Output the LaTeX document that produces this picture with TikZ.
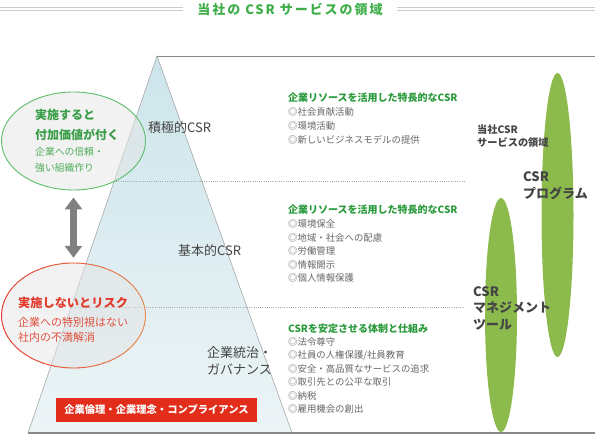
\documentclass[tikz,border=0pt]{standalone}
\usepackage{fontspec}
\setmainfont{Noto Sans CJK JP}
\usetikzlibrary{shapes.geometric,arrows.meta,calc}
\definecolor{titleGreen}{HTML}{3FAE49}
\definecolor{lineGray}{HTML}{CCCCCC}
\definecolor{pyrTop}{HTML}{CDE5EB}
\definecolor{pyrBot}{HTML}{ECF4F6}
\definecolor{edgeGray}{HTML}{A8A8A8}
\definecolor{ellG}{HTML}{5CBD6B}
\definecolor{txtG}{HTML}{3A9E48}
\definecolor{txtGl}{HTML}{4FAE5A}
\definecolor{redTxt}{HTML}{E23A2B}
\definecolor{redTxtl}{HTML}{E0503E}
\definecolor{ellRed}{HTML}{E3352A}
\definecolor{ellOrange}{HTML}{E8884C}
\definecolor{boxRed}{HTML}{E22D1A}
\definecolor{headGreen}{HTML}{2A9A3C}
\definecolor{itemGray}{HTML}{666666}
\definecolor{layGray}{HTML}{444444}
\definecolor{oliveG}{HTML}{8CBA4C}
\definecolor{arrowGray}{HTML}{808080}
\definecolor{baseGray}{HTML}{888888}
\tikzset{
  lbl/.style={anchor=west,inner sep=0pt,text height={0.88*#1},text depth={0.12*#1}},
  item/.style={lbl=9.4,font=\fontsize{9.4}{11}\selectfont,text=itemGray},
  head/.style={lbl=10,font=\fontsize{10}{12}\selectfont\bfseries,text=headGreen},
  layer/.style={lbl=13,font=\fontsize{13}{15}\selectfont,text=layGray},
  side/.style={lbl=13,font=\fontsize{13}{15}\selectfont\bfseries,text=layGray},
  dotline/.style={draw=edgeGray,line width=0.6pt,dash pattern=on 1pt off 1.2pt},
  titleline/.style={draw=lineGray,line width=0.8pt},
  bigell/.style={ellipse,fill=oliveG,inner sep=0pt,minimum width=32pt},
}
\begin{document}
\begin{tikzpicture}[x=1pt,y=-1pt]
\useasboundingbox (0,0) rectangle (595,435);
% title
\node[inner sep=0pt,text=titleGreen,font=\fontsize{13}{13}\selectfont\bfseries\addfontfeature{LetterSpace=15}] (title) at (290,9) {当社の CSR サービスの領域};
\draw[titleline] (0,7) -- (183,7) (0,10) -- (183,10);
\draw[titleline] (397,7) -- (595,7) (397,10) -- (595,10);
% pyramid
\coordinate (apex) at (157,56);
\coordinate (bl) at (28,433);
\coordinate (br) at (292,433);
\path[draw=edgeGray,line width=0.6pt,top color=pyrTop,bottom color=pyrBot] (apex) -- (br) -- (bl) -- cycle;
\draw[baseGray,line width=0.9pt] (apex) -- (595,56);
\draw[baseGray,line width=2pt] (bl) -- (595,433);
\coordinate (d1) at ($(apex)!1/3!(bl)$);
\coordinate (d2) at ($(apex)!2/3!(bl)$);
\draw[dotline] (d1) -- (d1 -| 464,0);
\draw[dotline] (d2) -- (d2 -| 464,0);
% layer labels
\node[layer] (l1) at (148,128) {積極的CSR};
\node[layer] (l2) at (178,251) {基本的CSR};
\node[layer] (l3a) at (207,353) {企業統治・};
\node[layer] (l3b) at (207,370) {ガバナンス};
\node[fill=boxRed,text=white,font=\fontsize{10.3}{12}\selectfont\bfseries,minimum width=201pt,minimum height=24pt,inner sep=0pt] (box) at (156.5,410) {企業倫理・企業理念・コンプライアンス};
% left ellipses
\node[ellipse,minimum width=144pt,minimum height=98pt,inner sep=0pt,draw=ellG,line width=0.9pt,fill=black!10,fill opacity=0.5,draw opacity=1] (g) at (73.5,141) {};
\node[ellipse,minimum width=144pt,minimum height=105pt,inner sep=0pt,fill=black!10,fill opacity=0.5] (r) at (73.5,315.5) {};
\foreach \a in {0,5,...,355}{
  \pgfmathsetmacro\p{50-50*cos(\a+2.5)}
  \draw[color=ellRed!\p!ellOrange,line width=0.9pt] ($(r.center)+(\a:72 and 52.5)$) arc[start angle=\a,end angle=\a+5.5,x radius=72,y radius=52.5];
}
\draw[arrowGray,line width=7.5pt,{Triangle[length=12pt,width=17pt]}-{Triangle[length=12pt,width=17pt]},shorten <=7pt,shorten >=5pt] (g.south) -- (r.north);
\node[lbl=12,font=\fontsize{12}{12}\selectfont\bfseries,text=txtG] (g1) at (35,115) {実施すると};
\node[lbl=12,font=\fontsize{12}{12}\selectfont\bfseries,text=txtG] (g2) at (35,135) {付加価値が付く};
\node[lbl=9.8,font=\fontsize{9.8}{10}\selectfont,text=txtGl] (g3) at (35,152) {企業への信頼・};
\node[lbl=9.8,font=\fontsize{9.8}{10}\selectfont,text=txtGl] (g4) at (35,168) {強い組織作り};
\node[lbl=12.2,font=\fontsize{12.2}{12}\selectfont\bfseries,text=redTxt] (r1) at (18,303) {実施しないとリスク};
\node[lbl=11,font=\fontsize{11}{11}\selectfont,text=redTxtl] (r2) at (18,322) {企業への特別視はない};
\node[lbl=11,font=\fontsize{11}{11}\selectfont,text=redTxtl] (r3) at (18,337) {社内の不満解消};
% right column
\node[head] (h1) at (288,98) {企業リソースを活用した特長的なCSR};
\node[item] (a1) at (288,112) {◎社会貢献活動};
\node[item] (a2) at (288,126) {◎環境活動};
\node[item] (a3) at (288,140) {◎新しいビジネスモデルの提供};
\node[head] (h2) at (288,210) {企業リソースを活用した特長的なCSR};
\node[item] (b1) at (288,224) {◎環境保全};
\node[item] (b2) at (288,237.5) {◎地域・社会への配慮};
\node[item] (b3) at (288,251) {◎労働管理};
\node[item] (b4) at (288,264.5) {◎情報開示};
\node[item] (b5) at (288,278) {◎個人情報保護};
\node[head] (h3) at (288,329) {CSRを安定させる体制と仕組み};
\node[item] (c1) at (288,341.5) {◎法令尊守};
\node[item] (c2) at (288,355) {◎社員の人権保護/社員教育};
\node[item] (c3) at (288,368.5) {◎安全・高品質なサービスの追求};
\node[item] (c4) at (288,382) {◎取引先との公平な取引};
\node[item] (c5) at (288,395.5) {◎納税};
\node[item] (c6) at (288,409) {◎雇用機会の創出};
% green ellipses
\node[bigell,minimum height=284pt] (prog) at (557.5,215) {};
\node[bigell,minimum height=234pt] (mgmt) at (501,315) {};
\node[lbl=10.2,font=\fontsize{10.2}{10}\selectfont\bfseries,text=layGray] (s1) at (477,130) {当社CSR};
\node[lbl=10.2,font=\fontsize{10.2}{10}\selectfont\bfseries,text=layGray] (s2) at (477,143) {サービスの領域};
\node[side] (p1) at (523,177) {CSR};
\node[side] (p2) at (523,194) {プログラム};
\node[side] (m1) at (473,292) {CSR};
\node[side] (m2) at (473,308) {マネジメント};
\node[side] (m3) at (473,325) {ツール};
\end{tikzpicture}
\end{document}
